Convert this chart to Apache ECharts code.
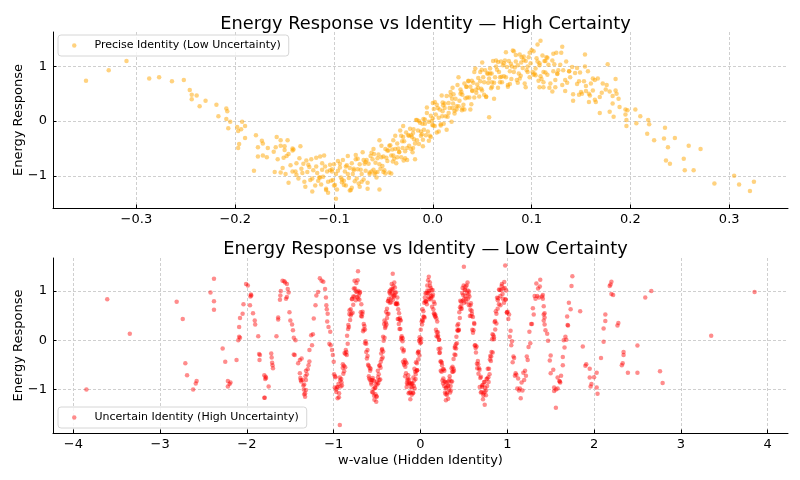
<!DOCTYPE html>
<html>
<head>
<meta charset="utf-8">
<script src="https://cdn.jsdelivr.net/npm/echarts@6/dist/echarts.min.js"></script>
<style>
  html, body { margin: 0; padding: 0; background: #fff; }
  #chart { width: 800px; height: 480px; }
</style>
</head>
<body>
<div id="chart"></div>
<script>
// tick positions
var topXTicks = [-0.3, -0.2, -0.1, 0, 0.1, 0.2, 0.3];
var topYTicks = [-1, 0, 1];
var bottomXTicks = [-4, -3, -2, -1, 0, 1, 2, 3, 4];
var bottomYTicks = [-1, 0, 1];

// top panel: precise identity, [w, energy]
var preciseLeftTail = [
  [-0.351,0.74],[-0.328,0.93],[-0.310,1.10],[-0.287,0.78],[-0.277,0.80],[-0.264,0.73],[-0.252,0.75],[-0.246,0.57],
  [-0.244,0.48],[-0.244,0.40],[-0.239,0.47],[-0.236,0.27],[-0.230,0.37],[-0.219,0.30],[-0.217,0.09],[-0.209,0.23],
  [-0.208,0.18],[-0.209,0.04],[-0.207,-0.13],[-0.205,-0.01],[-0.198,-0.11],[-0.197,-0.18],[-0.196,-0.42],[-0.197,-0.49],
  [-0.193,-0.01],[-0.194,-0.15],[-0.190,-0.09],[-0.190,-0.31],[-0.181,-0.91],[-0.179,-0.26],[-0.177,-0.48],[-0.173,-0.36],
  [-0.172,-0.41],[-0.167,-0.49],[-0.177,-0.65],[-0.172,-0.63],[-0.168,-0.66],[-0.161,-0.56],[-0.160,-0.93],[-0.154,-0.35],
  [-0.150,-0.46],[-0.147,-0.35],[-0.142,-0.50]
];
var preciseCore = [
  [-0.159,-0.48],[-0.157,-0.70],[-0.154,-0.45],[-0.152,-0.86],[-0.151,-0.67],
  [-0.149,-0.97],[-0.148,-0.64],[-0.146,-0.60],[-0.144,-0.81],[-0.142,-0.92],[-0.141,-0.52],
  [-0.139,-0.92],[-0.138,-0.77],[-0.136,-1.05],[-0.135,-0.68],[-0.133,-0.87],[-0.132,-0.95],[-0.131,-0.78],
  [-0.129,-1.20],[-0.128,-0.72],[-0.127,-0.93],[-0.125,-0.84],[-0.124,-1.08],[-0.123,-0.70],[-0.122,-1.05],[-0.121,-0.90],
  [-0.119,-1.18],[-0.118,-0.83],[-0.117,-0.95],[-0.115,-1.03],[-0.114,-0.65],[-0.113,-1.16],[-0.112,-0.89],[-0.111,-1.02],
  [-0.109,-0.83],[-0.108,-1.26],[-0.107,-0.92],[-0.106,-1.11],[-0.104,-0.80],[-0.103,-1.09],[-0.102,-0.88],[-0.101,-1.08],[-0.100,-0.79],
  [-0.099,-1.17],[-0.098,-0.97],[-0.097,-1.25],[-0.096,-0.91],[-0.094,-0.85],[-0.093,-1.03],[-0.092,-1.12],[-0.091,-0.71],[-0.090,-1.09],
  [-0.089,-0.92],[-0.088,-1.18],[-0.087,-0.81],[-0.086,-0.97],[-0.085,-1.04],[-0.084,-0.86],[-0.083,-1.26],[-0.082,-0.77],[-0.081,-0.97],[-0.080,-0.87],
  [-0.079,-1.10],[-0.078,-0.70],[-0.077,-1.05],[-0.076,-0.88],[-0.075,-1.14],[-0.074,-0.79],[-0.073,-0.89],[-0.072,-0.97],[-0.071,-0.57],[-0.070,-1.07],
  [-0.069,-0.78],[-0.068,-0.91],[-0.067,-0.71],[-0.066,-1.13],[-0.065,-0.78],[-0.064,-0.97],[-0.063,-0.64],[-0.062,-0.92],[-0.061,-0.70],[-0.060,-0.89],
  [-0.0595,-0.60],[-0.059,-0.97],[-0.058,-0.76],[-0.057,-1.03],[-0.056,-0.68],[-0.055,-0.61],[-0.054,-0.79],[-0.053,-0.87],[-0.052,-0.45],[-0.051,-0.82],[-0.050,-0.65],
  [-0.049,-0.90],[-0.048,-0.51],[-0.047,-0.67],[-0.046,-0.73],[-0.045,-0.54],[-0.044,-0.94],[-0.043,-0.44],[-0.042,-0.63],[-0.041,-0.52],[-0.0405,-0.74],[-0.040,-0.35],
  [-0.039,-0.69],[-0.038,-0.51],[-0.037,-0.77],[-0.036,-0.41],[-0.035,-0.50],[-0.034,-0.57],[-0.033,-0.17],[-0.032,-0.66],[-0.031,-0.37],[-0.0305,-0.49],[-0.030,-0.29],
  [-0.0295,-0.72],[-0.029,-0.37],[-0.028,-0.55],[-0.027,-0.21],[-0.026,-0.49],[-0.025,-0.26],[-0.024,-0.45],[-0.023,-0.14],[-0.022,-0.51],[-0.021,-0.29],[-0.0205,-0.57],[-0.020,-0.22],
  [-0.0195,-0.15],[-0.019,-0.33],[-0.018,-0.41],[-0.017,0.02],[-0.016,-0.35],[-0.015,-0.17],[-0.014,-0.42],[-0.013,-0.03],[-0.012,-0.19],[-0.011,-0.24],[-0.0105,-0.05],[-0.010,-0.46],
  [-0.0095,0.04],[-0.009,-0.16],[-0.008,-0.05],[-0.007,-0.26],[-0.006,0.15],[-0.005,-0.19],[-0.004,-0.01],[-0.003,-0.27],[-0.002,0.10],[-0.001,0.00],[-0.0005,-0.07],[0.000,0.33],
  [0.0005,-0.08],[0.001,0.22],[0.002,-0.09],[0.003,0.12],[0.004,-0.21],[0.005,0.24],[0.006,0.06],[0.007,0.21],[0.008,-0.06],[0.009,0.47],[0.0095,0.09],[0.0099,0.18],
  [0.0105,0.29],[0.011,-0.05],[0.012,0.24],[0.013,0.09],[0.014,0.46],[0.015,0.08],[0.016,0.33],[0.017,0.24],[0.018,0.47],[0.019,-0.01],[0.0195,0.41],[0.0199,0.24],
  [0.0205,0.32],[0.021,0.49],[0.022,0.14],[0.023,0.41],[0.024,0.27],[0.025,0.66],[0.026,0.27],[0.027,0.37],[0.028,0.58],[0.029,0.53],[0.0295,0.20],[0.0299,0.48],
  [0.031,0.30],[0.032,0.69],[0.033,0.42],[0.034,0.63],[0.035,0.43],[0.036,0.74],[0.037,0.43],[0.038,0.63],[0.039,0.31],[0.0395,0.74],[0.0399,0.56],
  [0.041,0.70],[0.042,0.43],[0.043,0.96],[0.044,0.58],[0.045,0.67],[0.046,0.79],[0.047,0.45],[0.048,0.73],[0.049,0.59],[0.0495,0.94],[0.0499,0.56],
  [0.051,0.80],[0.052,0.71],[0.053,0.93],[0.054,0.45],[0.055,0.87],[0.056,0.70],[0.057,0.78],[0.058,0.96],[0.059,0.60],[0.0595,0.87],[0.0599,0.71],
  [0.061,1.10],[0.062,0.70],[0.063,0.80],[0.064,1.00],[0.065,0.94],[0.066,0.61],[0.067,0.90],[0.068,0.71],[0.069,1.09],[0.0695,0.81],
  [0.071,1.02],[0.072,0.82],[0.073,1.11],[0.074,0.80],[0.075,0.99],[0.076,0.66],[0.077,1.10],[0.078,0.91],[0.079,1.05],[0.0795,0.77],
  [0.081,1.29],[0.082,0.90],[0.083,0.98],[0.084,1.09],[0.085,0.75],[0.086,1.02],[0.087,0.87],[0.088,1.22],[0.089,0.83],[0.0895,1.07],
  [0.091,0.97],[0.092,1.18],[0.093,0.69],[0.094,1.10],[0.095,0.93],[0.096,1.00],[0.097,1.17],[0.098,0.80],[0.099,1.06],
  [0.101,0.90],[0.102,1.28],[0.103,0.87],[0.104,0.96],[0.105,1.15],[0.106,1.09],[0.107,0.74],[0.108,1.02],[0.109,0.82],
  [0.111,1.20],[0.112,0.90],[0.113,1.10],[0.114,0.89],[0.115,1.17],[0.116,0.85],[0.117,1.03],[0.119,0.69],
  [0.121,1.11],[0.122,0.91],[0.123,1.04],[0.124,0.75],[0.125,1.25],[0.126,0.86],[0.127,0.93],[0.129,1.03],
  [0.131,0.66],[0.132,0.93],[0.134,0.75],[0.135,1.09],[0.136,0.70],[0.138,0.91],[0.139,0.80],
  [0.141,0.99],[0.142,0.49],[0.144,0.88],[0.146,0.68],[0.148,0.73],[0.149,0.89],
  [0.151,0.50],[0.153,0.73],[0.155,0.55],[0.157,0.91],[0.159,0.47],
  [0.109,1.47],[0.131,1.36],[0.154,1.22],[0.148,0.48],[0.158,0.50],[0.155,0.64],[0.124,0.62],[0.121,0.54],
  [0.108,0.62],[0.112,0.62],[-0.054,-1.25],[0.057,0.07]
];
// the looser outer part of the same band
var preciseSpread = [
  [-0.158,-0.29],[-0.154,-0.94],[-0.150,-0.53],[-0.146,-1.13],[-0.142,-0.54],[-0.138,-0.98],[-0.134,-0.46],[-0.130,-1.11],
  [-0.126,-0.80],[-0.122,-1.29],[-0.118,-0.67],[-0.114,-1.03],[-0.110,-0.63],[-0.106,-1.31],[-0.102,-0.92],[-0.098,-1.42],
  [-0.094,-0.78],[-0.090,-1.17],[-0.086,-0.64],[-0.082,-1.22],[-0.078,-0.62],[-0.074,-1.20],[-0.070,-0.71],[-0.066,-1.24],
  [-0.062,-0.58],[-0.058,-0.94],[-0.054,-0.35],[-0.050,-0.93],[-0.046,-0.54],[-0.042,-0.96],[-0.038,-0.27],[-0.034,-0.56],
  [-0.030,-0.09],[-0.026,-0.71],[-0.022,-0.26],[-0.018,-0.70],[-0.014,0.00],[-0.010,-0.34],[-0.006,0.25],[-0.002,-0.29],
  [0.002,0.35],[0.006,-0.19],[0.010,0.34],[0.014,-0.16],[0.018,0.53],[0.022,0.19],[0.026,0.80],[0.030,0.23],
  [0.034,0.63],[0.038,0.21],[0.042,0.90],[0.046,0.61],[0.050,1.07],[0.054,0.44],[0.058,0.87],[0.062,0.41],
  [0.066,1.08],[0.070,0.71],[0.074,1.26],[0.078,0.68],[0.082,1.28],[0.086,0.70],[0.090,1.17],[0.094,0.62],
  [0.098,1.25],[0.102,0.85],[0.106,1.40],[0.110,0.77],[0.114,1.10],[0.118,0.61],[0.122,1.23],[0.126,0.87],
  [0.130,1.25],[0.134,0.55],[0.138,0.91],[0.142,0.37],[0.146,0.97],[0.150,0.53],[0.154,1.00],[0.158,0.35],
  [-0.116,-1.09],[-0.112,-0.77],[-0.108,-1.24],[-0.104,-0.90],[-0.100,-1.18],[-0.096,-0.73],[-0.092,-1.07],[-0.088,-0.83],
  [-0.084,-1.27],[-0.080,-0.90],[-0.076,-0.69],[-0.072,-1.11],[-0.068,-0.75],[-0.064,-0.94],[-0.060,-0.51],[-0.056,-0.93],
  [-0.052,-0.66],[-0.048,-0.96],[-0.044,-0.45],[-0.040,-0.63],[-0.036,-0.66],[-0.032,-0.27],[-0.028,-0.68],[-0.024,-0.27],
  [-0.020,-0.49],[-0.016,0.02],[-0.012,-0.27],[-0.008,0.03],[-0.004,-0.36],[0.000,0.05],[0.004,0.30],[0.008,-0.08],
  [0.012,0.32],[0.016,0.15],[0.020,0.61],[0.024,0.21],[0.028,0.50],[0.032,0.21],[0.036,0.73],[0.040,0.55],
  [0.044,0.52],[0.048,0.90],[0.052,0.48],[0.056,0.87],[0.060,0.63],[0.064,1.11],[0.068,0.80],[0.072,1.06],
  [0.076,0.63],[0.080,1.00],[0.084,1.21],[0.088,0.78],[0.092,1.12],[0.096,0.90],[0.100,1.30],[0.104,0.84],
  [0.108,1.06],[0.112,0.71],[0.116,1.16]
];
var preciseRightTail = [
  [0.162,0.78],[0.160,0.69],[0.164,0.75],[0.167,0.78],[0.172,0.69],[0.176,0.66],[0.162,0.56],[0.169,0.44],
  [0.171,0.52],[0.175,0.58],[0.177,1.04],[0.185,0.77],[0.179,0.54],[0.185,0.56],[0.182,0.46],[0.188,0.41],
  [0.186,0.50],[0.164,0.39],[0.165,0.35],[0.169,0.15],[0.179,0.17],[0.182,0.32],[0.183,0.08],[0.195,0.21],
  [0.197,0.20],[0.195,0.12],[0.196,0.02],[0.196,-0.09],[0.205,0.21],[0.210,0.09],[0.206,-0.04],[0.218,0.02],
  [0.219,-0.06],[0.217,-0.23],[0.224,-0.35],[0.235,-0.12],[0.234,-0.32],[0.245,-0.31],[0.238,-0.48],[0.259,-0.45],
  [0.271,-0.51],[0.236,-0.72],[0.240,-0.78],[0.254,-0.69],[0.255,-0.90],[0.264,-0.90],[0.285,-1.14],[0.305,-1.00],
  [0.310,-1.16],[0.325,-1.11],[0.321,-1.28],[0.189,0.26]
];

// bottom panel: uncertain identity, [w, energy]
var uncertainLeft = [
  [-3.85,-1.00],[-3.61,0.83],[-3.35,0.13],[-2.81,0.78],[-2.74,0.43],[-2.71,-0.47],[-2.69,-0.71],[-2.62,-1.00],
  [-2.58,-0.83],[-2.59,-0.88],[-2.42,0.97],[-2.38,1.25],[-2.38,0.79],[-2.38,0.62],[-2.28,-0.17],[-2.25,-0.44],
  [-2.22,-0.83],[-2.22,-0.94],[-2.20,-0.89],[-2.19,-0.86],[-2.12,-0.40],[-2.10,0.00],[-2.09,0.27],[-2.08,0.45],
  [-2.09,0.07],[-2.08,0.05],[-2.04,0.73],[-2.05,0.54],[-2.01,1.14],[-1.99,1.11],[-1.96,0.89],[-1.955,0.93],
  [-1.95,0.91],[-1.965,0.71],[-1.93,0.55],[-1.91,0.40],[-1.905,0.32],[-1.87,0.08],[-1.86,-0.28],[-1.855,-0.40],
  [-1.85,-0.30],[-1.80,-0.71],[-1.79,-0.79],[-1.785,-0.74],[-1.78,-0.77],[-1.80,-1.17],[-1.795,-1.17],[-1.75,-0.94],
  [-1.72,-0.27],[-1.715,-0.35],[-1.71,-0.46],[-1.705,-0.51],[-1.70,-0.57],[-1.66,0.08],[-1.64,0.46],[-1.62,0.82],
  [-1.615,0.91],[-1.61,1.00],[-1.64,0.42],[-1.59,1.21],[-1.57,1.20],[-1.56,1.17],[-1.54,1.14],[-1.53,1.04],
  [-1.52,0.97],[-1.54,0.88],[-1.55,0.84],[-1.51,0.57],[-1.50,0.40],[-1.48,0.32],[-1.47,0.20],[-1.46,0.05],
  [-1.44,0.00],[-1.45,-0.30],[-1.39,-0.40],[-1.37,-0.37],[-1.46,-0.29],[-1.41,-0.47],[-1.39,-0.67],[-1.385,-0.77],
  [-1.38,-0.81],[-1.375,-0.84],[-1.34,-0.90],[-1.32,-0.81],[-1.31,-0.69],[-1.30,-0.59],[-1.29,-0.51],[-1.28,-0.43],
  [-1.32,-1.01],[-1.33,-1.08],[-1.36,-0.81],[-1.35,-0.92],[-1.345,-1.00],[-1.34,-1.10],[-1.33,-1.15],[-1.325,-0.73],
  [-1.32,-0.62],[-1.28,-0.20],[-1.25,-0.10],[-1.26,0.10],[-1.24,0.12],[-1.23,0.44],[-1.21,0.71],[-1.20,0.91],
  [-1.18,0.98],[-1.16,1.26],[-1.14,1.21],[-1.12,1.19],[-1.10,1.04],[-1.09,0.87],[-1.085,0.71],[-1.08,0.63],
  [-1.07,0.54],[-1.075,0.38],[-1.06,0.27],[-1.04,0.17],[-1.05,-0.07],[-1.035,-0.10],[-1.02,-0.20],[-1.01,-0.30],
  [-1.00,-0.44]
];
var uncertainCore = [
  [-0.996,-0.69],[-0.988,-0.96],[-0.980,-0.75],[-0.972,-1.00],[-0.963,-0.96],[-0.955,-1.18],
  [-0.946,-0.89],[-0.938,-1.08],[-0.930,-0.76],[-0.921,-0.94],[-0.913,-0.79],[-0.905,-0.92],
  [-0.896,-0.56],[-0.889,-0.68],[-0.882,-0.52],[-0.875,-0.26],[-0.868,-0.55],[-0.861,-0.20],[-0.854,-0.24],
  [-0.846,0.09],[-0.839,-0.07],[-0.832,0.31],[-0.825,0.27],[-0.818,0.61],[-0.811,0.41],[-0.804,0.63],
  [-0.796,0.54],[-0.789,0.84],[-0.782,0.56],[-0.775,0.89],[-0.768,1.05],[-0.761,0.89],[-0.754,1.05],
  [-0.746,0.81],[-0.739,1.16],[-0.732,0.98],[-0.725,1.22],[-0.718,0.84],[-0.711,0.91],[-0.704,0.82],
  [-0.696,0.98],[-0.689,0.57],[-0.682,0.73],[-0.675,0.48],[-0.668,0.58],[-0.661,0.18],[-0.654,0.33],
  [-0.646,0.29],[-0.639,-0.06],[-0.632,-0.02],[-0.625,-0.07],[-0.618,-0.37],[-0.611,-0.20],[-0.604,-0.50],
  [-0.597,-0.52],[-0.592,-0.78],[-0.586,-0.56],[-0.581,-0.81],[-0.575,-0.58],[-0.569,-0.86],[-0.564,-0.81],[-0.558,-1.05],[-0.553,-0.81],
  [-0.547,-1.06],[-0.542,-0.99],[-0.536,-0.83],[-0.531,-1.21],[-0.525,-0.96],[-0.519,-1.10],[-0.514,-0.90],[-0.508,-1.14],[-0.503,-0.84],
  [-0.497,-0.90],[-0.492,-0.62],[-0.486,-0.87],[-0.481,-0.69],[-0.475,-0.81],[-0.469,-0.51],[-0.464,-0.80],[-0.458,-0.44],[-0.453,-0.27],
  [-0.447,-0.38],[-0.442,-0.18],[-0.436,-0.35],[-0.431,0.07],[-0.425,-0.01],[-0.419,0.33],[-0.414,0.05],[-0.408,0.25],[-0.403,0.28],
  [-0.397,0.58],[-0.392,0.32],[-0.386,0.64],[-0.381,0.53],[-0.375,0.79],[-0.369,0.54],[-0.364,0.84],[-0.358,0.97],[-0.353,0.76],
  [-0.347,0.94],[-0.342,1.03],[-0.337,0.85],[-0.332,1.14],[-0.327,0.95],[-0.322,1.02],[-0.317,0.82],[-0.312,1.10],[-0.307,0.89],[-0.302,1.17],
  [-0.297,0.91],[-0.292,0.97],[-0.287,0.74],[-0.282,0.97],[-0.277,0.73],[-0.272,0.76],[-0.267,0.87],[-0.262,0.43],[-0.257,0.63],[-0.252,0.43],
  [-0.247,0.55],[-0.242,0.23],[-0.237,0.45],[-0.232,0.23],[-0.227,0.40],[-0.222,0.02],[-0.217,0.08],[-0.212,-0.17],[-0.207,-0.02],[-0.202,-0.44],
  [-0.197,-0.23],[-0.192,-0.20],[-0.187,-0.47],[-0.182,-0.40],[-0.177,-0.73],[-0.172,-0.44],[-0.167,-0.67],[-0.162,-0.47],[-0.157,-0.87],[-0.152,-0.81],
  [-0.147,-0.89],[-0.142,-0.71],[-0.137,-1.08],[-0.132,-0.87],[-0.127,-1.06],[-0.122,-0.88],[-0.117,-1.20],[-0.112,-0.95],[-0.107,-0.87],[-0.102,-1.11],
  [-0.097,-0.96],[-0.092,-0.88],[-0.087,-1.06],[-0.082,-0.76],[-0.077,-0.93],[-0.072,-0.82],[-0.067,-0.98],[-0.062,-0.64],[-0.057,-0.79],[-0.052,-0.45],
  [-0.047,-0.62],[-0.042,-0.47],[-0.037,-0.61],[-0.032,-0.26],[-0.027,-0.39],[-0.022,-0.24],[-0.017,-0.01],[-0.012,-0.31],[-0.007,0.01],[-0.002,-0.06],
  [0.003,0.21],[0.008,0.03],[0.013,0.38],[0.018,0.32],[0.023,0.63],[0.028,0.39],[0.033,0.59],[0.038,0.47],[0.043,0.76],[0.048,0.46],
  [0.053,0.79],[0.058,0.95],[0.063,0.79],[0.068,0.96],[0.073,0.73],[0.078,1.11],[0.083,0.96],[0.088,1.22],[0.093,0.88],[0.098,1.00],
  [0.103,0.96],[0.108,1.17],[0.113,0.83],[0.118,1.06],[0.123,0.86],[0.128,1.02],[0.133,0.68],[0.138,0.89],[0.143,0.93],[0.148,0.63],
  [0.153,0.78],[0.158,0.52],[0.163,0.74],[0.168,0.48],[0.173,0.48],[0.178,0.21],[0.183,0.44],[0.188,0.16],[0.193,0.38],[0.198,0.07],
  [0.203,0.09],[0.208,-0.18],[0.213,0.01],[0.218,-0.26],[0.223,-0.25],[0.228,-0.17],[0.233,-0.62],[0.238,-0.43],[0.243,-0.64],[0.248,-0.51],
  [0.253,-0.82],[0.258,-0.59],[0.263,-0.78],[0.268,-0.59],[0.273,-0.93],[0.278,-0.84],[0.283,-1.06],[0.288,-0.85],[0.293,-1.22],[0.298,-0.96],
  [0.303,-0.86],[0.308,-1.06],[0.314,-0.93],[0.319,-1.19],[0.325,-0.84],[0.331,-1.00],[0.336,-0.73],[0.342,-1.06],[0.347,-0.93],
  [0.353,-0.84],[0.358,-0.57],[0.364,-0.84],[0.369,-0.54],[0.375,-0.64],[0.381,-0.38],[0.386,-0.62],[0.392,-0.29],[0.397,-0.13],
  [0.403,-0.30],[0.408,-0.08],[0.414,0.07],[0.419,-0.06],[0.425,0.30],[0.431,0.19],[0.436,0.33],[0.442,0.21],[0.447,0.57],
  [0.453,0.45],[0.458,0.80],[0.464,0.64],[0.469,0.78],[0.475,0.64],[0.481,0.96],[0.486,0.80],[0.492,0.92],[0.497,1.11],
  [0.503,0.76],[0.508,1.03],[0.514,0.90],[0.519,1.09],[0.525,0.84],[0.531,1.11],[0.536,0.96],[0.542,1.17],[0.547,0.84],
  [0.553,0.93],[0.558,0.71],[0.564,0.89],[0.569,0.49],[0.575,0.71],[0.581,0.75],[0.586,0.49],[0.592,0.54],[0.597,0.21],
  [0.604,0.47],[0.611,0.20],[0.618,0.35],[0.625,-0.11],[0.632,-0.10],[0.639,-0.25],[0.646,-0.13],
  [0.654,-0.57],[0.661,-0.42],[0.668,-0.68],[0.675,-0.57],[0.682,-0.95],[0.689,-0.77],[0.696,-0.74],
  [0.704,-1.05],[0.711,-0.95],[0.718,-0.91],[0.725,-1.12],[0.732,-0.85],[0.739,-1.05],[0.746,-0.97],
  [0.754,-1.12],[0.761,-0.79],[0.768,-0.93],[0.775,-0.58],[0.782,-0.75],[0.789,-0.58],[0.796,-0.69],
  [0.804,-0.32],[0.811,-0.42],[0.818,-0.24],[0.825,0.02],[0.832,-0.25],[0.839,0.10],[0.846,0.06],
  [0.854,0.37],[0.861,0.22],[0.868,0.59],[0.875,0.54],[0.882,0.86],[0.889,0.64],[0.896,0.85],
  [0.904,0.73],[0.912,1.02],[0.921,0.71],[0.929,1.02],[0.938,1.14],[0.946,0.94],
  [0.954,1.05],[0.962,0.76],[0.971,1.06],[0.979,0.83],[0.988,1.01],[0.996,0.56],
  [1.004,0.58],[1.012,0.43],[1.021,0.52],[1.029,0.07],[1.038,0.19],[1.046,-0.10],
  [1.054,-0.02],[1.062,-0.45],[1.071,-0.33],[1.079,-0.36],[1.088,-0.72],[1.096,-0.67],
  [1.105,-0.70],[1.115,-0.98],[1.125,-0.78],[1.135,-1.02],[1.145,-0.98],
  [1.155,-1.18],[1.165,-0.86],[1.175,-1.02],[1.185,-0.66],[1.195,-0.81],
  [1.205,-0.62],[1.215,-0.72],[1.225,-0.33],[1.235,-0.40],[1.245,-0.14],
  [1.255,0.17],[1.265,-0.06],[1.275,0.33],[1.285,0.33],[1.295,0.65],
  [1.305,0.52],[1.315,0.90],[1.325,0.84],[1.335,1.15],[1.345,0.90],
  [1.355,1.05],[1.365,0.87],[1.375,1.09],
  [-0.93,-1.72],[0.50,1.49],[0.976,1.52],[0.096,1.29],[-0.72,1.40],[-0.32,1.35],[0.74,-1.31],[-0.51,-1.25],
  [0.72,-1.20],[0.29,-1.10]
];
// second pass over the crowded middle strands
var uncertainDense = [
  [-0.985,-0.73],[-0.970,-1.05],[-0.955,-0.95],[-0.940,-1.16],[-0.925,-0.82],[-0.910,-0.86],[-0.895,-0.49],[-0.880,-0.63],
  [-0.865,-0.28],[-0.850,-0.30],[-0.835,0.23],[-0.820,0.53],[-0.805,0.50],[-0.790,0.83],[-0.775,0.72],[-0.760,1.21],
  [-0.745,0.99],[-0.730,0.88],[-0.715,1.00],[-0.700,0.96],[-0.685,0.49],[-0.670,0.54],[-0.655,0.22],[-0.640,0.22],
  [-0.625,-0.24],[-0.610,-0.32],[-0.595,-0.73],[-0.580,-0.62],[-0.565,-0.90],[-0.550,-0.77],[-0.535,-1.13],[-0.520,-0.97],
  [-0.505,-1.15],[-0.490,-0.75],[-0.475,-0.52],[-0.460,-0.56],[-0.445,-0.20],[-0.430,-0.23],[-0.415,0.40],[-0.400,0.36],
  [-0.385,0.45],[-0.370,0.80],[-0.355,1.00],[-0.340,0.77],[-0.325,1.04],[-0.310,0.91],[-0.295,1.07],[-0.280,0.74],
  [-0.265,0.73],[-0.250,0.33],[-0.235,0.41],[-0.220,0.05],[-0.205,0.04],[-0.190,-0.50],[-0.175,-0.54],[-0.160,-0.95],
  [-0.145,-0.79],[-0.130,-0.80],[-0.115,-1.06],[-0.100,-0.89],[-0.085,-1.08],[-0.070,-0.58],[-0.055,-0.69],[-0.040,-0.61],
  [-0.025,-0.23],[-0.010,0.06],[0.005,-0.04],[0.020,0.41],[0.035,0.48],[0.050,0.87],[0.065,0.78],[0.080,1.01],
  [0.095,0.83],[0.110,1.10],[0.125,0.90],[0.140,1.02],[0.155,0.55],[0.170,0.52],[0.185,0.08],[0.200,0.16],
  [0.215,0.01],[0.230,-0.43],[0.245,-0.46],[0.260,-0.88],[0.275,-0.62],[0.290,-0.97],[0.305,-1.11],[0.320,-0.92],
  [0.335,-0.80],[0.350,-1.02],[0.365,-0.64],[0.380,-0.58],[0.395,-0.16],[0.410,-0.17],[0.425,0.20],[0.440,0.20],
  [0.455,0.67],[0.470,0.70],[0.485,1.06],[0.500,0.83],[0.515,1.02],[0.530,0.77],[0.545,1.01],[0.560,0.99],
  [0.575,0.62],[0.590,0.60],[0.605,0.15],[0.620,0.33],[0.635,-0.16],[0.650,-0.48],[0.665,-0.49],[0.680,-0.60],
  [0.695,-1.06],[0.710,-0.92],[0.725,-1.08],[0.740,-0.85],[0.755,-1.02],[0.770,-0.78],[0.785,-0.85],[0.800,-0.39],
  [0.815,-0.33],[0.830,0.12],[0.845,0.02],[0.860,0.39],[0.875,0.34],[0.890,0.81],[0.905,1.03],[0.920,0.90],
  [0.935,1.10],[0.950,0.84],[0.965,1.18],[0.980,0.82],[0.995,0.57]
];
var uncertainRight = [
  [3.35,0.09],[2.66,1.00],[2.59,0.87],[2.50,-0.11],[2.76,-0.63],[2.79,-0.87],[2.50,-0.66],[2.39,-0.66],
  [2.34,-0.24],[2.34,-0.30],[2.32,-0.51],[2.33,-0.47],[2.28,0.35],[2.27,0.30],[2.20,1.19],[2.19,1.13],
  [2.18,1.10],[2.20,0.94],[2.22,0.92],[2.13,0.52],[2.13,0.39],[2.11,0.24],[2.11,-0.03],[2.08,-0.36],
  [2.03,-0.66],[2.00,-0.75],[2.03,-0.96],[2.04,-1.09],[1.97,-0.89],[1.96,-0.94],[1.95,-0.76],[1.90,-0.52],
  [1.91,-0.49],[1.95,-0.58],[1.87,-0.13],[1.84,0.59],[1.75,1.30],[1.74,1.10],[1.71,0.76],[1.73,0.63],
  [1.69,0.48],[1.70,0.30],[1.695,0.31],[1.67,0.07],[1.68,0.01],[1.65,0.00],[1.66,-0.15],[1.64,-0.34],
  [1.64,-0.51],[1.62,-0.72],[1.60,-0.83],[1.605,-0.84],[1.58,-0.76],[1.61,-0.86],[1.58,-0.98],[1.56,-1.00],
  [1.54,-0.96],[1.54,-1.03],[1.56,-1.37],[1.53,-0.60],[1.50,-0.67],[1.49,-0.41],[1.50,-0.31],[1.47,-0.01],
  [1.46,0.13],[1.44,0.20],[1.43,0.32],[1.42,0.40],[1.43,0.46],[1.42,0.52],[1.43,0.55],[1.42,0.69],
  [1.41,0.84],[1.40,0.89],[1.41,0.92],[1.38,1.23],[3.85,0.98]
];

var preciseName = 'Precise Identity (Low Uncertainty)';
var uncertainName = 'Uncertain Identity (High Uncertainty)';

function tickFmt(digits) {
  return function (v) {
    if (Math.abs(v) < 1e-9) v = 0;
    return v.toFixed(digits).replace('-', '\u2212');
  };
}

var font = 'DejaVu Sans';
var gridLine = { show: true, lineStyle: { color: '#cfcfcf', width: 1, type: [3, 2] } };
var spine = { show: true, onZero: false, lineStyle: { color: '#000', width: 1 } };

function xAxisFor(idx, min, max, ticks, digits, extra) {
  var ax = {
    type: 'value', gridIndex: idx, min: min, max: max,
    axisLine: spine,
    axisTick: { show: true, inside: true, length: 3.5, customValues: ticks, lineStyle: { color: '#000' } },
    axisLabel: { customValues: ticks, formatter: tickFmt(digits), color: '#000', fontSize: 13, fontFamily: font, margin: 5 },
    splitLine: gridLine
  };
  for (var k in extra) ax[k] = extra[k];
  return ax;
}
function yAxisFor(idx, min, max, ticks) {
  return {
    type: 'value', gridIndex: idx, min: min, max: max,
    name: 'Energy Response', nameLocation: 'middle', nameGap: 28, nameMoveOverlap: false,
    nameTextStyle: { color: '#000', fontSize: 13, fontFamily: font },
    axisLine: spine,
    axisTick: { show: true, inside: true, length: 3.5, customValues: ticks, lineStyle: { color: '#000' } },
    axisLabel: { customValues: ticks, formatter: tickFmt(0), color: '#000', fontSize: 13, fontFamily: font, margin: 6 },
    splitLine: gridLine
  };
}
function legendAt(top, name) {
  return {
    data: [name], left: 58, top: top, orient: 'vertical',
    icon: 'circle', itemWidth: 4.5, itemHeight: 4.5,
    padding: [5, 8, 5, 14],
    borderColor: '#d6d6d6', borderWidth: 1, borderRadius: 3,
    backgroundColor: 'rgba(255,255,255,0.8)',
    textStyle: { color: '#000', fontSize: 11, fontFamily: font, padding: [0, 0, 0, 13] }
  };
}

var chart = echarts.init(document.getElementById('chart'));
chart.setOption({
  animation: false,
  textStyle: { fontFamily: font },
  title: [
    { text: 'Energy Response vs Identity \u2014 High Certainty', left: 420.5, top: 10, textAlign: 'center',
      textStyle: { fontSize: 17.8, fontWeight: 'normal', color: '#000', fontFamily: font } },
    { text: 'Energy Response vs Identity \u2014 Low Certainty', left: 420.5, top: 235, textAlign: 'center',
      textStyle: { fontSize: 17.8, fontWeight: 'normal', color: '#000', fontFamily: font } }
  ],
  legend: [legendAt(35, preciseName), legendAt(407, uncertainName)],
  grid: [
    { left: 53, right: 12, top: 32, height: 176, outerBoundsMode: 'none', containLabel: false },
    { left: 53, right: 12, top: 258, height: 175, outerBoundsMode: 'none', containLabel: false }
  ],
  xAxis: [
    xAxisFor(0, -0.3844, 0.3595, topXTicks, 1, {}),
    xAxisFor(1, -4.235, 4.235, bottomXTicks, 0, {
      name: 'w-value (Hidden Identity)', nameLocation: 'middle', nameGap: 21, nameMoveOverlap: false,
      nameTextStyle: { color: '#000', fontSize: 13, fontFamily: font }
    })
  ],
  yAxis: [
    yAxisFor(0, -1.59, 1.63, topYTicks),
    yAxisFor(1, -1.885, 1.67, bottomYTicks)
  ],
  series: [
    {
      name: preciseName, type: 'scatter', xAxisIndex: 0, yAxisIndex: 0,
      data: preciseLeftTail.concat(preciseCore, preciseSpread, preciseRightTail),
      symbolSize: 4.5, itemStyle: { color: '#FFA500', opacity: 0.5 },
      emphasis: { disabled: true }
    },
    {
      name: uncertainName, type: 'scatter', xAxisIndex: 1, yAxisIndex: 1,
      data: uncertainLeft.concat(uncertainCore, uncertainDense, uncertainRight),
      symbolSize: 4.5, itemStyle: { color: '#FF0000', opacity: 0.45 },
      emphasis: { disabled: true }
    }
  ]
});
</script>
</body>
</html>
